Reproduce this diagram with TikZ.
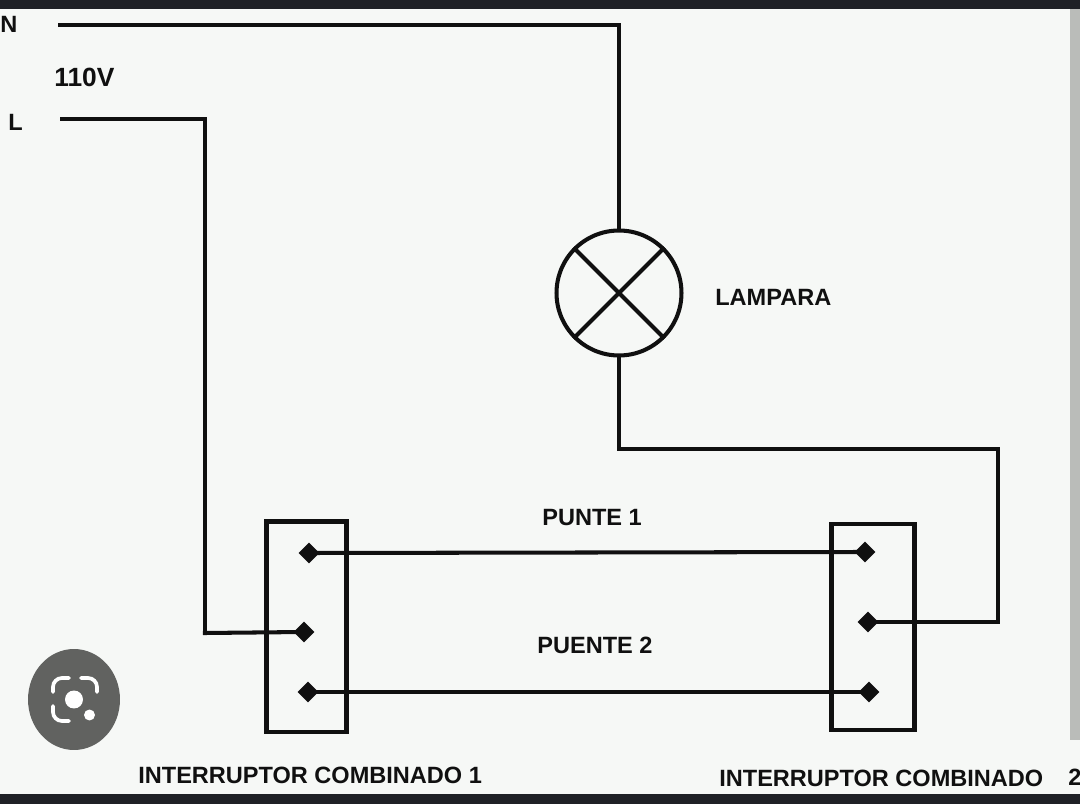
\documentclass[tikz,border=0pt]{standalone}
\usepackage{fontspec}
\setmainfont{Liberation Sans}
\usetikzlibrary{shapes.geometric}
\definecolor{paper}{RGB}{246,248,246}
\definecolor{bar}{RGB}{31,33,38}
\definecolor{strip}{RGB}{186,188,185}
\definecolor{lensgray}{RGB}{97,98,96}
\definecolor{ink}{RGB}{16,16,16}
\tikzset{
	wire/.style={line width=2.3pt,draw=ink,line cap=rect},
	lampcross/.style={line width=2.3pt,draw=ink,line cap=butt},
	label/.style={font=\fontsize{13.4}{15}\selectfont\bfseries,text=ink,inner sep=0pt,anchor=west},
	boxnode/.style={draw=ink,line width=2.3pt,inner sep=0pt,outer sep=0pt},
	lampnode/.style={circle,draw=ink,line width=2.3pt,minimum size=2.5cm,inner sep=0pt},
	pin/.style={diamond,fill=ink,inner sep=0pt,minimum size=0.42cm},
	lensarc/.style={white,line width=2.1pt,line cap=round}
}
\newcommand{\pinnode}[3]{\node[pin] (#3) at (#1,#2) {};}
\newcommand{\tag}[3]{\node[label] at (#1,#2) {#3};}
\begin{document}
\begin{tikzpicture}[x=0.02cm,y=-0.02cm]
	\useasboundingbox (0,0) rectangle (1080,804);
	\fill[paper] (0,0) rectangle (1080,804);
	\fill[strip] (1070,9) rectangle (1080,740);
	\fill[bar] (0,0) rectangle (1080,9);
	\fill[bar] (0,794) rectangle (1080,804);
	% lamp and switches
	\node[lampnode] (lamp) at (619,293) {};
	\node[boxnode,minimum width=1.6cm,minimum height=4.22cm] (sw1) at (306.5,627) {};
	\node[boxnode,minimum width=1.66cm,minimum height=4.12cm] (sw2) at (873,627) {};
	\pinnode{309}{553}{a1} \pinnode{304}{632}{a2} \pinnode{308}{692}{a3}
	\pinnode{865}{552}{b1} \pinnode{868}{622}{b2} \pinnode{869}{692}{b3}
	\coordinate (nstart) at (60,25);
	\coordinate (lstart) at (62,119);
	\coordinate (ljoin) at (205,633);
	\coordinate (rjoin) at (998,622);
	% wires
	\draw[wire] (nstart) -| (lamp.north);
	\draw[wire] (lstart) -| (ljoin);
	\draw[wire] (ljoin) -- (a2.center);
	\draw[wire] (lamp.south) |- (rjoin |- 0,449) -- (rjoin);
	\draw[wire] (b2.center) -- (rjoin);
	\draw[wire] (a1.center) -- (b1.center);
	\draw[wire] (a3.center) -- (b3.center);
	\draw[lampcross] (lamp.north west) -- (lamp.south east);
	\draw[lampcross] (lamp.north east) -- (lamp.south west);
	% labels
	\tag{0}{24}{N} \tag{8}{122}{L}
	\node[label,font=\fontsize{15}{17}\selectfont\bfseries] at (54,77) {110V};
	\tag{715}{297}{LAMPARA}
	\tag{542}{518}{PUNTE 1} \tag{537}{645}{PUENTE 2}
	\tag{138}{775}{INTERRUPTOR COMBINADO 1}
	\tag{719}{778}{INTERRUPTOR COMBINADO} \tag{1068}{777}{2}
	% lens button
	\node[ellipse,fill=lensgray,minimum width=1.84cm,minimum height=2.02cm,inner sep=0pt] (lens) at (74,699.5) {};
	\node[circle,fill=white,minimum size=0.36cm,inner sep=0pt] (lensdot) at (lens) {};
	\node[circle,fill=white,minimum size=0.22cm,inner sep=0pt] (lensspot) at (89.5,715) {};
	\draw[lensarc] (69,678) -- (62,678) arc[start angle=270,end angle=180,radius=9] -- (53,692);
	\draw[lensarc] (81,678) -- (88,678) arc[start angle=270,end angle=360,radius=9] -- (97,692);
	\draw[lensarc] (53,706) -- (53,712) arc[start angle=180,end angle=90,radius=9] -- (69,721);
\end{tikzpicture}
\end{document}
